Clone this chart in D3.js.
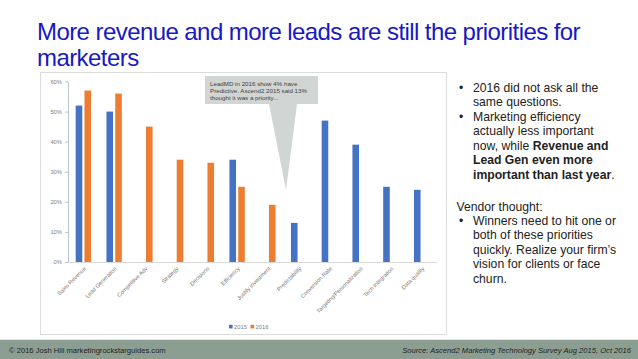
<!DOCTYPE html>
<html><head><meta charset="utf-8">
<script src="https://cdn.jsdelivr.net/npm/d3@7"></script>
<style>
html,body{margin:0;padding:0;background:#fff;}
svg{display:block;font-family:"Liberation Sans",Arial,sans-serif;}
</style></head>
<body>
<svg id="c" width="638" height="359"></svg>
<script>
const categories = ["Sales Revenue","Lead Generation","Competitive Adv","Strategy","Decisions","Efficiency","Justify investment","Predictability","Conversion Rate","Targeting/Personalization","Tech Integration","Data quality"];
const series = ["2015","2016"];
const values2015 = [52,50,null,null,null,34,null,13,47,39,25,24];
const values2016 = [57,56,45,34,33,25,19,null,null,null,null,null];
const yTicks = [0,10,20,30,40,50,60];
const colors = ["#4472c4","#ed7d31"];
const titleLines = ["More revenue and more leads are still the priorities for","marketers"];
const calloutLines = ["LeadMD in 2016 show 4% have","Predictive. Ascend2 2015 said 13%","thought it was a priority..."];
const footerLeft = "© 2016 Josh Hill marketingrockstarguides.com";
const footerRight = "Source: Ascend2 Marketing Technology Survey Aug 2015, Oct 2016";

const svg = d3.select("#c");

// Title
const title = svg.append("g");
const tNodes = titleLines.map((t,i)=>
  title.append("text").attr("x",37).attr("y",i===0?40:66)
    .attr("fill","#1818c4").attr("font-size",24).text(t));
const w0 = tNodes[0].node().getComputedTextLength();
const ls = (543 - w0) / titleLines[0].length;
tNodes.forEach(n=>n.attr("letter-spacing",ls));

// chart frame
svg.append("rect").attr("x",40.5).attr("y",72.5).attr("width",406).attr("height",262)
  .attr("fill","#fff").attr("stroke","#dcdcdc");

const x = d3.scaleBand().domain(categories).range([68,437]);
const x1 = d3.scaleBand().domain(series).range([x.bandwidth()*0.25, x.bandwidth()*0.75]).paddingInner(0.25);
const y = d3.scaleLinear().domain([0,60]).range([262,81.5]);

// y axis
const yAxis = svg.append("g").attr("transform","translate(68,0)")
  .call(d3.axisLeft(y).tickValues(yTicks).tickFormat(d=>d+"%").tickSize(3).tickSizeOuter(0));
yAxis.select(".domain").attr("stroke","#b9c6cf");
yAxis.selectAll(".tick line").attr("stroke","#b9c6cf");
yAxis.selectAll(".tick text").attr("fill","#7f7f7f").attr("font-size",5.8).attr("x",-6)
  .style("font-family","'Liberation Sans',Arial,sans-serif");

// baseline
svg.append("line").attr("x1",68).attr("x2",437).attr("y1",y(0)+0.5).attr("y2",y(0)+0.5).attr("stroke","#d9d9d9");

// bars
const data = categories.map((c,i)=>({c, vals:[values2015[i],values2016[i]]}));
const g = svg.append("g");
data.forEach(d=>{
  d.vals.forEach((v,j)=>{
    if(v==null) return;
    g.append("rect").attr("x",x(d.c)+x1(series[j])).attr("width",x1.bandwidth())
      .attr("y",y(v)).attr("height",y(0)-y(v)).attr("fill",colors[j]);
  });
});

// x labels
categories.forEach(c=>{
  const cx = x(c)+x.bandwidth()/2+3, cy = y(0)+7;
  svg.append("text").attr("transform",`translate(${cx},${cy}) rotate(-45)`)
    .attr("text-anchor","end").attr("font-size",5.6).attr("fill","#757575").text(c);
});

// legend
const legend = svg.append("g").attr("transform","translate(229,327)");
series.forEach((s,i)=>{
  const lg = legend.append("g").attr("transform",`translate(${i*21.5},0)`);
  lg.append("rect").attr("x",0).attr("y",-2.2).attr("width",3.6).attr("height",3.6).attr("fill",colors[i]);
  lg.append("text").attr("x",5).attr("y",2).attr("font-size",5.8).attr("fill","#7f7f7f").text(s);
});

// callout
const cx0=205, cx1=318, cy0=76, cy1=104;
svg.append("path").attr("d",`M${cx0},${cy0}H${cx1}V${cy1}H297L286,190L269,${cy1}H${cx0}Z`)
  .attr("fill","#d1d6d4");
calloutLines.forEach((t,i)=>{
  svg.append("text").attr("x",210).attr("y",86+i*6.8).attr("font-size",6.2).attr("fill","#404040").text(t);
});

// right text
const txt = svg.append("g").attr("font-size",12.2).attr("fill","#222");
const bul = [
  {b:true, parts:[["2016 did not ask all the",0]]},
  {parts:[["same questions.",0]]},
  {b:true, parts:[["Marketing efficiency",0]]},
  {parts:[["actually less important",0]]},
  {parts:[["now, while ",0],["Revenue and",1]]},
  {parts:[["Lead Gen even more",1]]},
  {parts:[["important than last year",1],[".",0]]}
];
const bul2 = [
  {v:true, parts:[["Vendor thought:",0]]},
  {b:true, parts:[["Winners need to hit one or",0]]},
  {parts:[["both of these priorities",0]]},
  {parts:[["quickly. Realize your firm’s",0]]},
  {parts:[["vision for clients or face",0]]},
  {parts:[["churn.",0]]}
];
function drawLines(lines, y0, lh){
  lines.forEach((l,i)=>{
    const yy = y0 + i*lh;
    if(l.b) txt.append("text").attr("x",459).attr("y",yy).text("•");
    const t = txt.append("text").attr("x", l.v?456.5:473).attr("y",yy);
    l.parts.forEach(p=>t.append("tspan").attr("font-weight",p[1]?"bold":"normal").text(p[0]));
  });
}
drawLines(bul, 91.5, 14.5);
drawLines(bul2, 210.5, 14.4);

// footer
svg.append("rect").attr("x",0).attr("y",340).attr("width",638).attr("height",19).attr("fill","#8c9e91");
svg.append("line").attr("x1",0).attr("x2",638).attr("y1",339.5).attr("y2",339.5).attr("stroke","#dfe6e2");
svg.append("text").attr("x",9).attr("y",353).attr("font-size",7.6).attr("fill","#1f1f1f").text(footerLeft);
svg.append("text").attr("x",631).attr("y",353).attr("text-anchor","end").attr("font-size",7.6)
  .attr("font-style","italic").attr("fill","#1f1f1f").text(footerRight);
</script>
</body></html>
